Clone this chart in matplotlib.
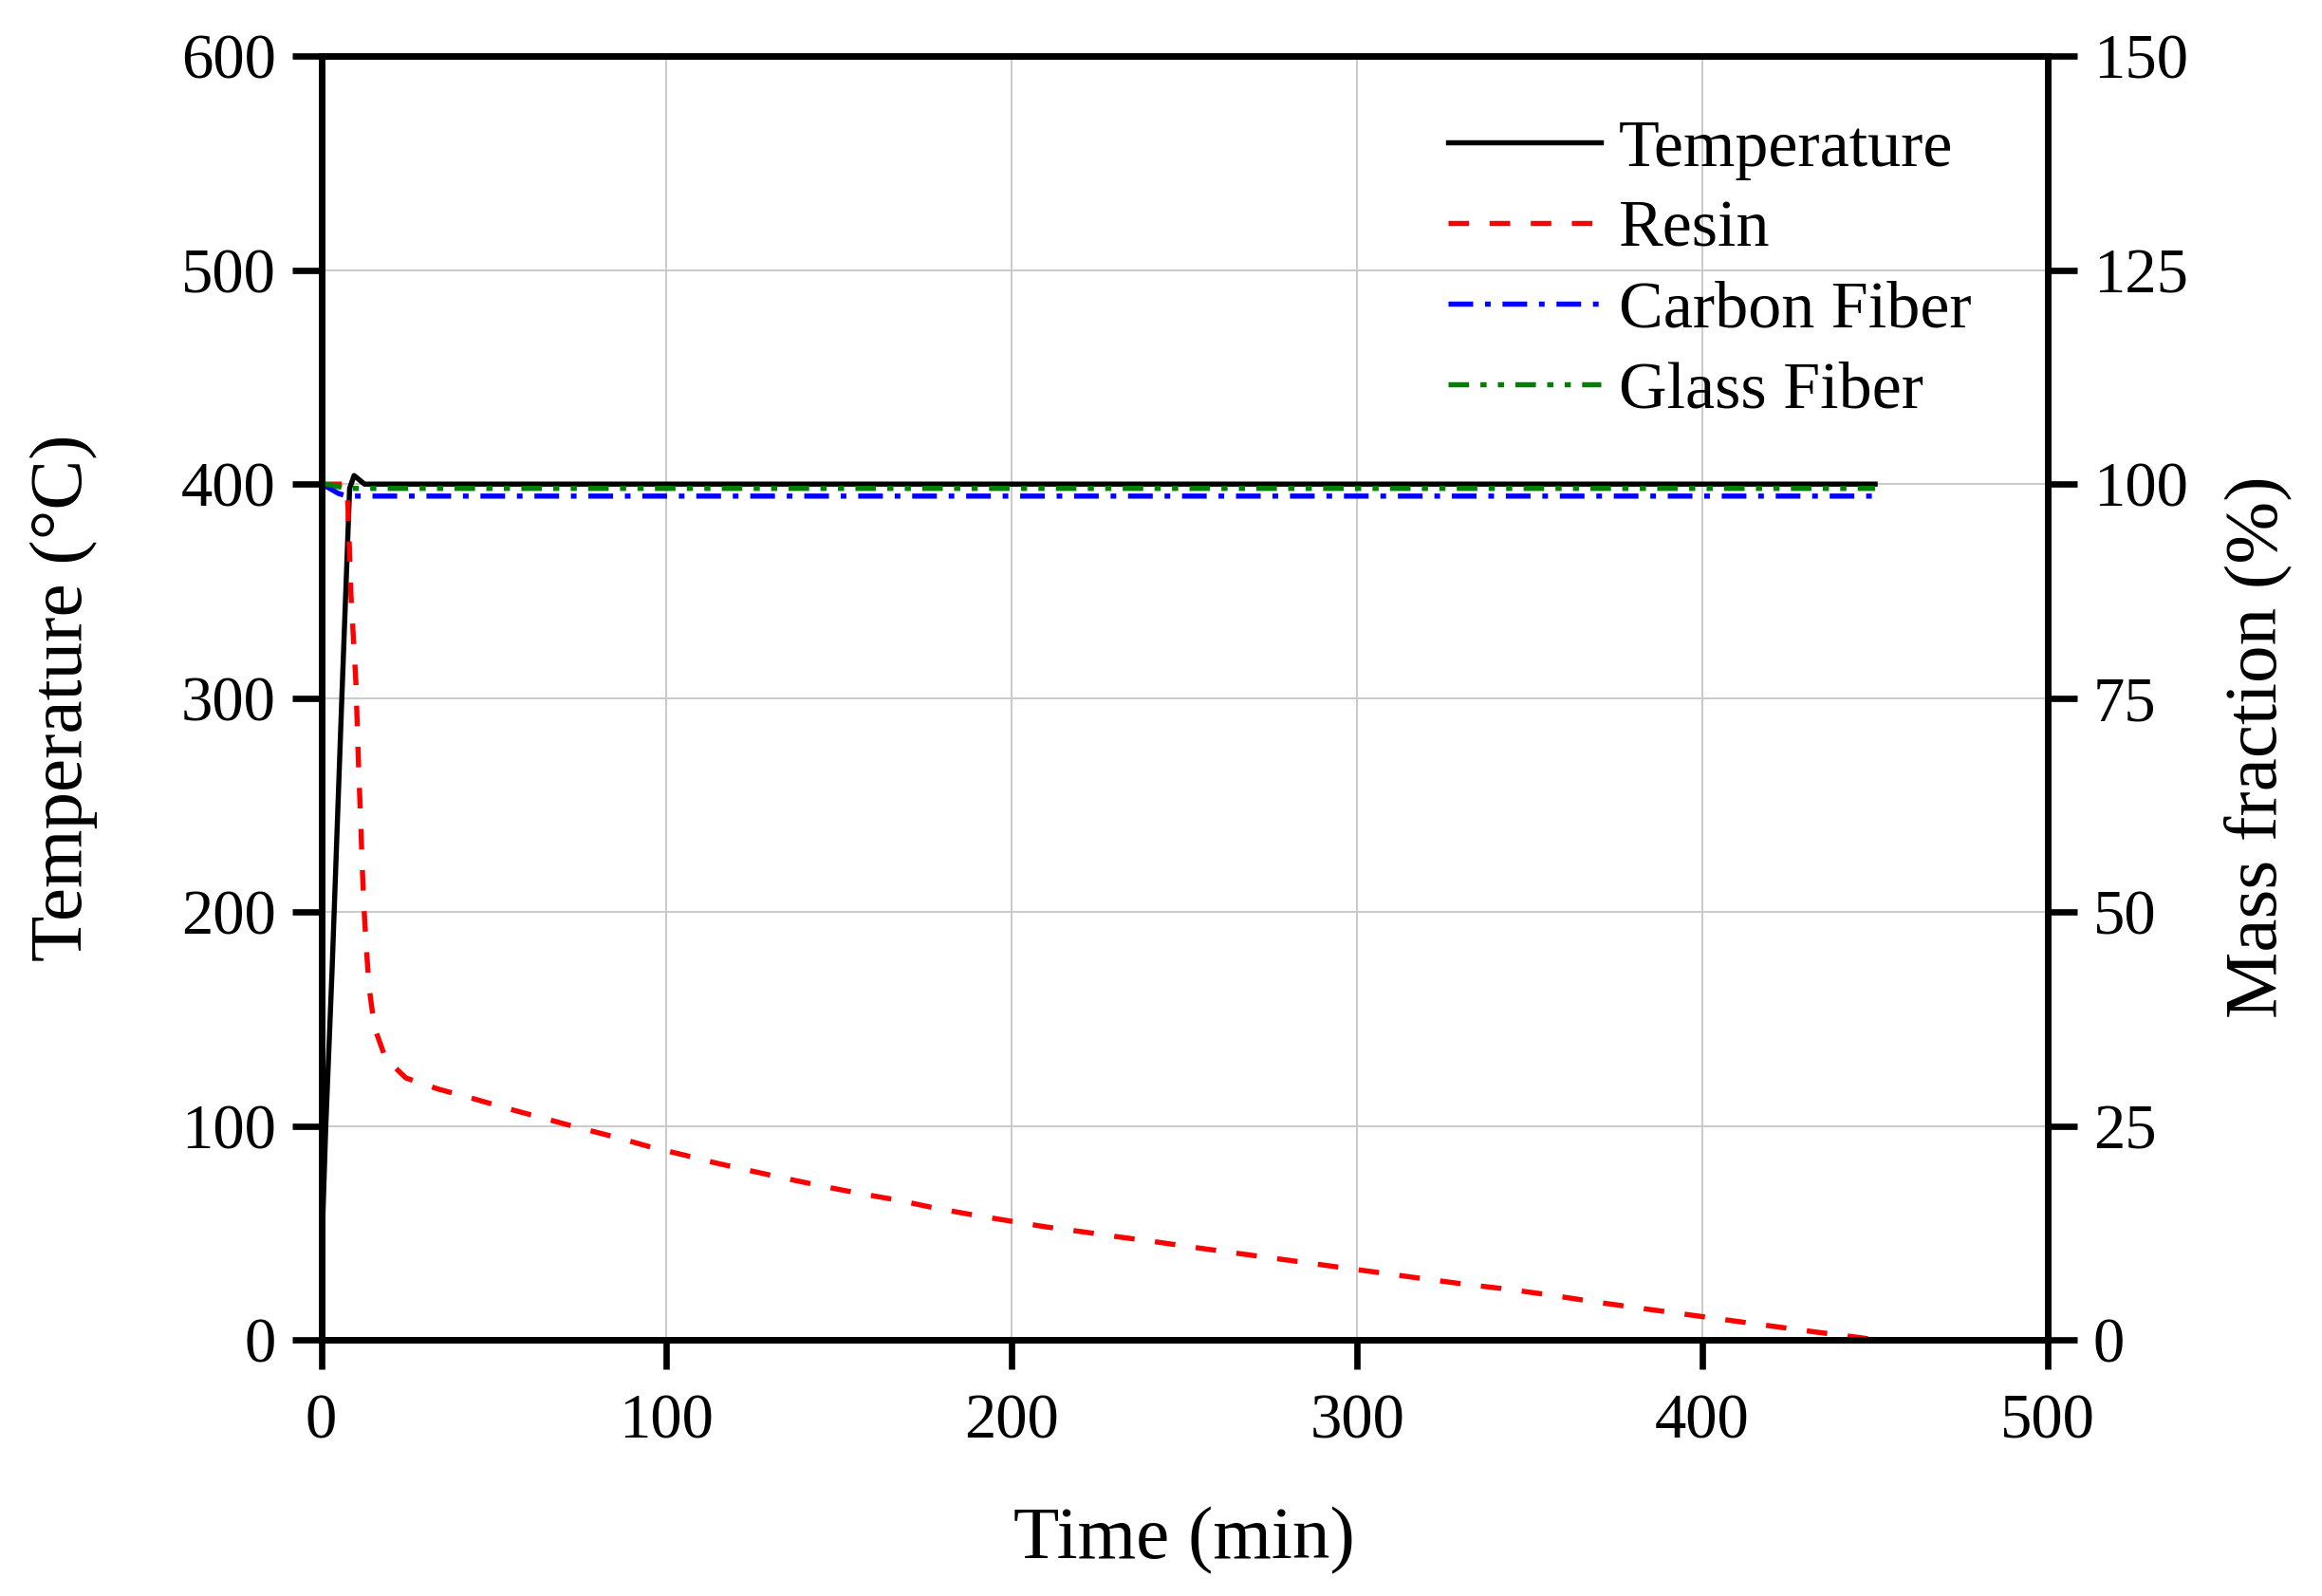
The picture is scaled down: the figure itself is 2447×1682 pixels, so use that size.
import matplotlib
matplotlib.use("Agg")
import matplotlib.pyplot as plt

plt.rcParams['font.family'] = ['Liberation Serif', 'DejaVu Serif']

# ---- data ----
time_temp = [0, 0.5, 1.3, 3.1, 5.9, 8.2, 9.5, 11, 12.5, 450]
temperature = [28, 60, 100, 172, 298, 398, 404, 402, 400, 400]

time_resin = [0, 7.2, 7.7, 8.6, 10, 10.9, 11.4, 11.8, 12.3, 13,
              13.9, 15.4, 18.6, 24.5, 33.9, 43.9, 54.2, 64.3, 74.4, 86,
              95.6, 105, 113.9, 122.7, 132.8, 147, 157.4, 167.2, 177.7, 188.7,
              199.2, 209.8, 220.9, 231.4, 242.5, 254.6, 267.3, 280.1, 292.7, 305.5,
              318.1, 331.1, 343.9, 356.5, 369.3, 381.9, 394.7, 407.4, 420.1, 433,
              445.6, 450]
resin = [100, 100, 97.6, 87, 77, 65.8, 60.8, 55.9, 50.9, 46,
         41, 36.5, 32.9, 30.6, 29.3, 28.2, 27, 25.9, 24.8, 23.6,
         22.5, 21.6, 20.7, 19.9, 19, 17.8, 17, 16.3, 15.4, 14.6,
         13.9, 13.2, 12.6, 12, 11.4, 10.7, 10, 9.3, 8.6, 7.9,
         7.2, 6.5, 5.9, 5.2, 4.4, 3.7, 3.0, 2.3, 1.6, 0.9,
         0.26, 0]

time_carbon = [0, 2, 5, 7.5, 450]
carbon = [100, 99.6, 98.9, 98.6, 98.6]

time_glass = [0, 3, 7, 450]
glass = [100, 99.9, 99.5, 99.5]

x_ticks = [0, 100, 200, 300, 400, 500]
temp_ticks = [0, 100, 200, 300, 400, 500, 600]
mass_ticks = [0, 25, 50, 75, 100, 125, 150]

labels = ['Temperature', 'Resin', 'Carbon Fiber', 'Glass Fiber']

# ---- figure ----
W, H = 2447, 1682
dpi = 300
fig = plt.figure(figsize=(W / dpi, H / dpi), dpi=dpi)
left, right, top, bottom = 338.6 / W, 2158 / W, 59.3 / H, 1412 / H
ax = fig.add_axes([left, 1 - bottom, right - left, bottom - top])
ax2 = ax.twinx()

lw = 1.3
l1, = ax.plot(time_temp, temperature, color='black', lw=lw, label=labels[0])
l2, = ax2.plot(time_resin, resin, color='#ff0000', lw=lw, ls=(0, (4, 4)), label=labels[1])
l3, = ax2.plot(time_carbon, carbon, color='#0000ff', lw=lw,
               ls=(0, (4.8, 2.3, 1.1, 2.3)), label=labels[2])
l4, = ax2.plot(time_glass, glass, color='#008000', lw=lw,
               ls=(0, (4, 2.2, 1.2, 2.2, 1.2, 2.2)), label=labels[3])

ax.set_xlim(0, 500)
ax.set_ylim(0, 600)
ax2.set_ylim(0, 150)
ax.set_xticks(x_ticks)
ax.set_yticks(temp_ticks)
ax2.set_yticks(mass_ticks)

ax.grid(True, color='#c8c8c8', lw=0.45)
ax.set_axisbelow(True)

tick_fs = 16
for a in (ax, ax2):
    for s in a.spines.values():
        s.set_linewidth(1.6)
    a.tick_params(direction='out', length=7.5, width=1.6, labelsize=tick_fs, pad=4)
ax.tick_params(axis='x', pad=6)
ax.tick_params(top=False, right=False)
ax2.tick_params(left=False, top=False)

ax.set_xlabel('Time (min)', fontsize=19, labelpad=14)
ax.set_ylabel('Temperature (°C)', fontsize=19, labelpad=21)
ax2.set_ylabel('Mass fraction (%)', fontsize=19, labelpad=9, rotation=90)
ax2.yaxis.label.set_y(0.462)

leg = ax2.legend(handles=[l1, l2, l3, l4], loc='upper left',
                 bbox_to_anchor=(0.6526, 0.951), frameon=False,
                 fontsize=16.8, handlelength=2.3, handletextpad=0.27,
                 labelspacing=0.3, borderpad=0, borderaxespad=0)

fig.savefig('out.png', dpi=dpi)
